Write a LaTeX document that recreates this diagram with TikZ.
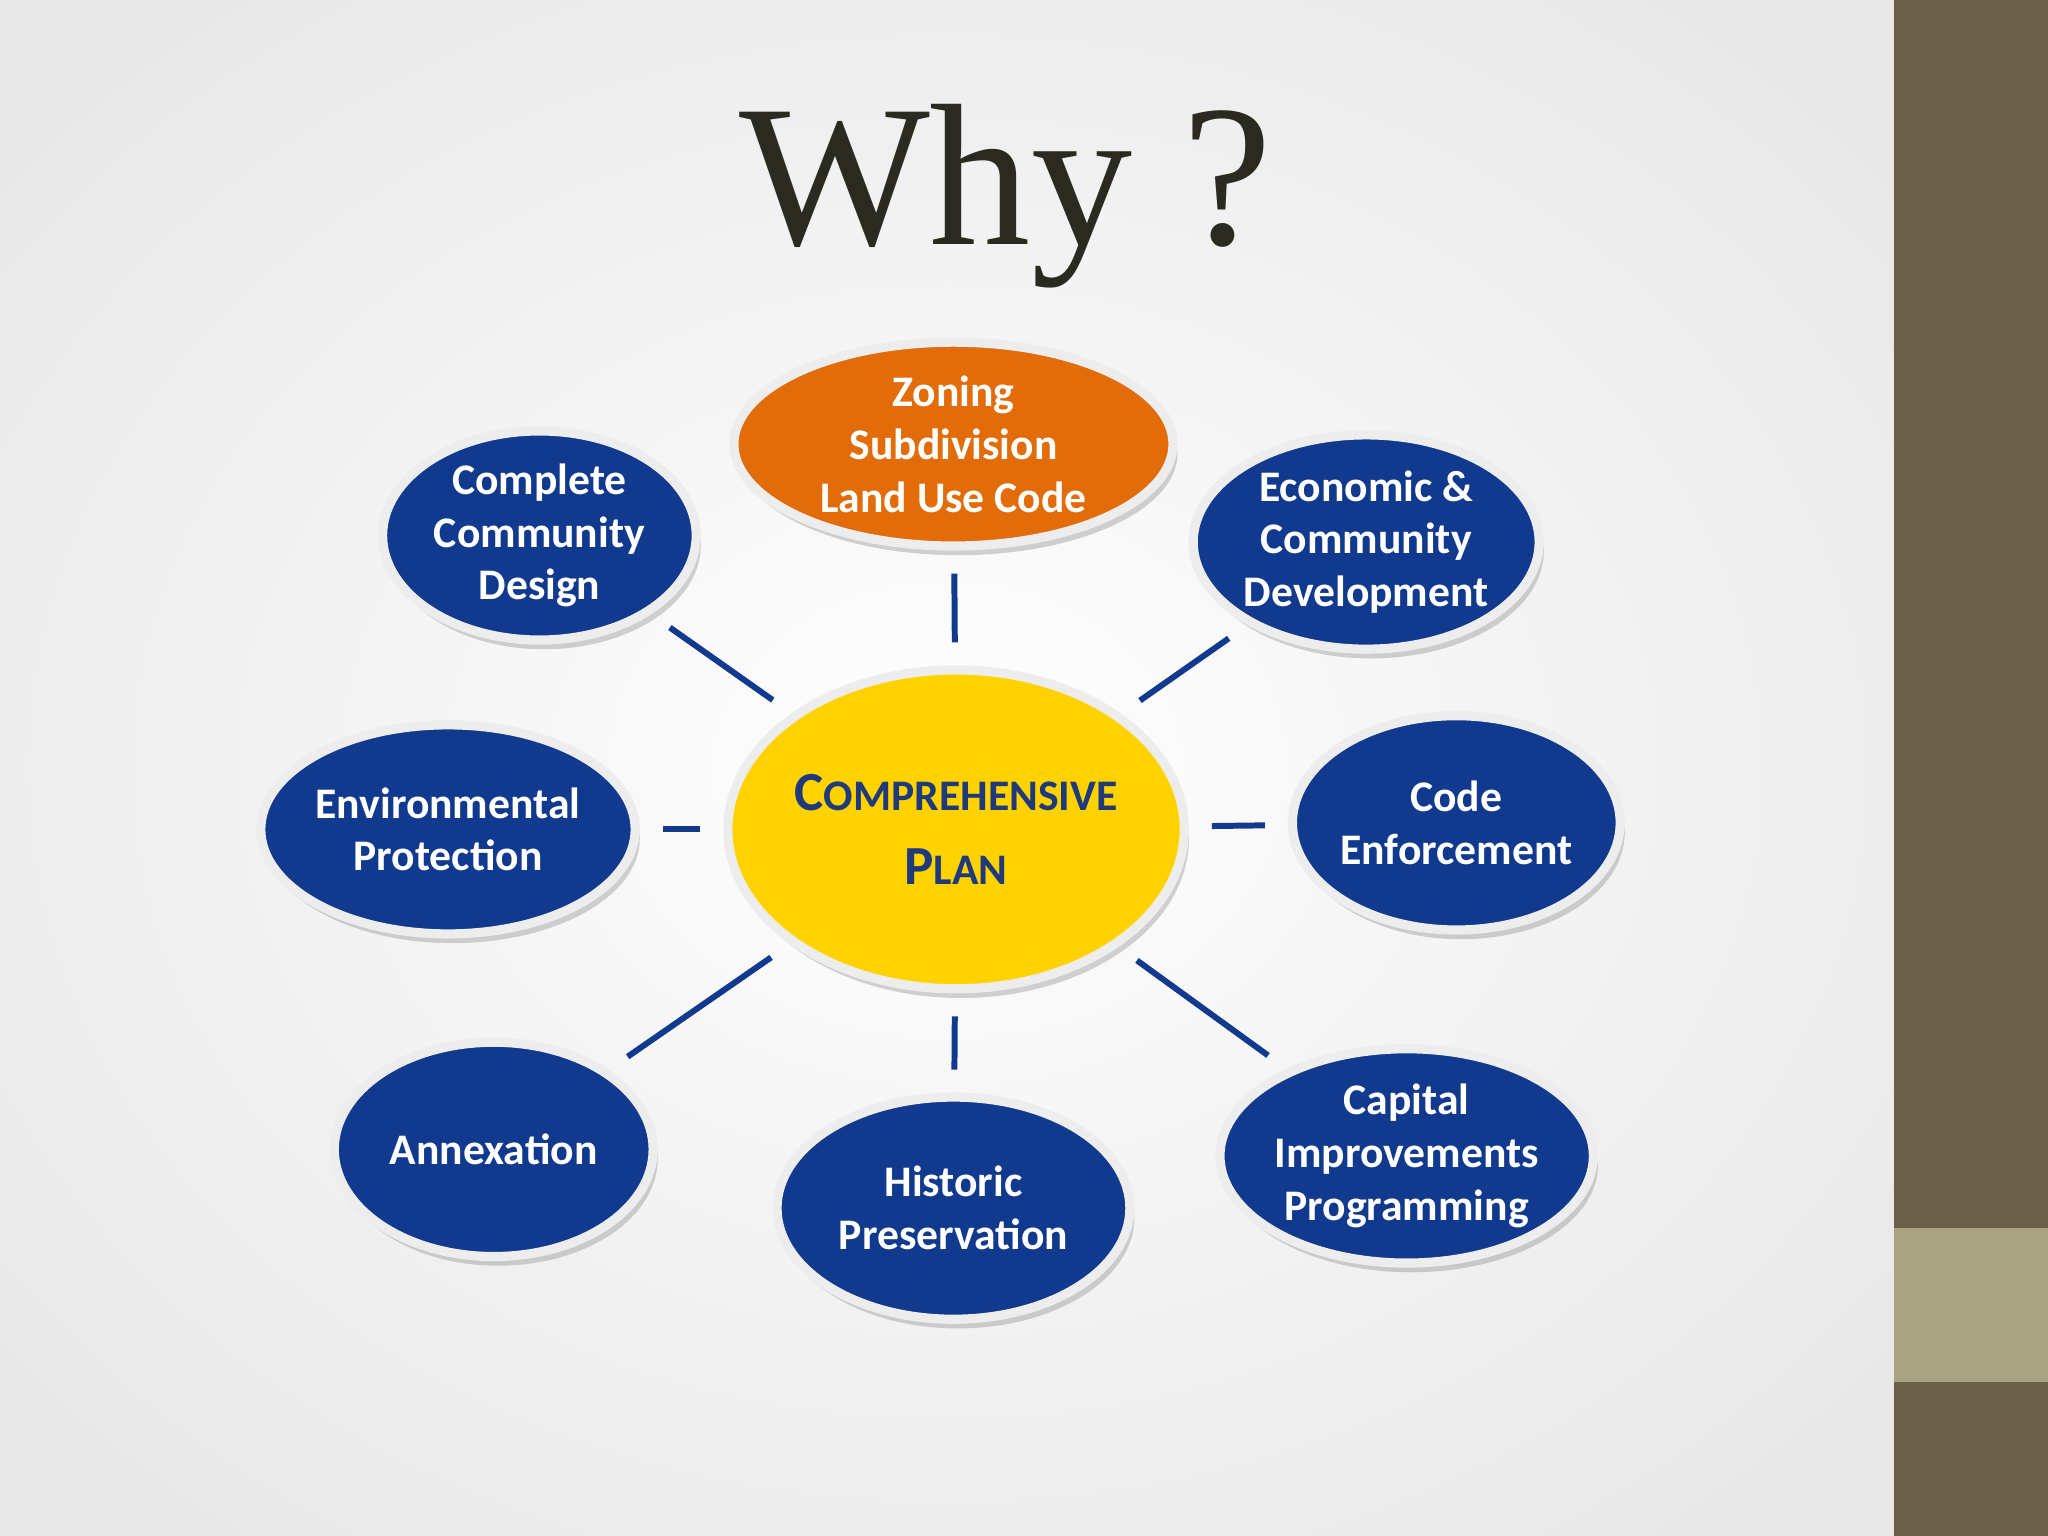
\documentclass[tikz,border=0pt]{standalone}
\usepackage{fontspec}
\setmainfont{Liberation Serif}
\newfontfamily\carfont{Carlito}
\usetikzlibrary{shapes.geometric,shadows}
\definecolor{oliveD}{HTML}{6B5F47}
\definecolor{oliveL}{HTML}{A9A283}
\definecolor{bub}{HTML}{113A8E}
\definecolor{org}{HTML}{E36C0A}
\definecolor{yel}{HTML}{FFD200}
\definecolor{ttl}{HTML}{2B2A20}
\definecolor{cpt}{HTML}{1F3A7A}
\tikzset{
 bubble/.style={ellipse, fill=bub, draw=white!93!black, line width=2pt,
   drop shadow={shadow xshift=1pt,shadow yshift=-2pt,opacity=0.35},
   text=white, font=\carfont\bfseries\fontsize{9.5}{11.5}\selectfont, align=center, inner sep=0pt},
 link/.style={draw=bub, line width=1.3pt, shorten <=5pt, shorten >=5pt}
}
\begin{document}
\begin{tikzpicture}[x=0.01cm,y=-0.01cm]
\useasboundingbox (0,0) rectangle (1568,1176);
\shade[inner color=white, outer color=black!9] (-200,-150) rectangle (1650,1326);
\fill[oliveD] (1450,0) rectangle (1568,1176);
\fill[oliveL] (1450,940) rectangle (1568,1058);
\node[text=ttl, font=\fontsize{44}{50}\selectfont] (title) at (770,150) {Why ?};
\node[bubble, fill=yel, minimum width=3.16cm, minimum height=2.44cm, text=cpt,
  font=\carfont\bfseries] (c) at (732,635)
  {{\fontsize{12}{14}\selectfont C}{\fontsize{9.5}{14}\selectfont OMPREHENSIVE}\\[4pt]{\fontsize{12}{14}\selectfont P}{\fontsize{9.5}{14}\selectfont LAN}};
\node[bubble, fill=org, minimum width=3.36cm, minimum height=1.56cm] (z) at (730,340) {Zoning\\Subdivision\\Land Use Code};
\node[bubble, minimum width=2.4cm, minimum height=1.6cm] (cd) at (413,410) {Complete\\Community\\Design};
\node[bubble, minimum width=2.44cm, minimum height=1.64cm] (ec) at (1046,415) {Economic \&\\Community\\Development};
\node[bubble, minimum width=2.44cm, minimum height=1.6cm] (en) at (343,635) {Environmental\\Protection};
\node[bubble, minimum width=2.44cm, minimum height=1.64cm] (co) at (1115,630) {Code\\Enforcement};
\node[bubble, minimum width=2.44cm, minimum height=1.64cm] (an) at (378,880) {Annexation};
\node[bubble, minimum width=2.7cm, minimum height=1.7cm] (hi) at (730,925) {Historic\\Preservation};
\node[bubble, minimum width=2.5cm, minimum height=1.64cm] (ca) at (1077,885) {Capital\\Improvements\\Programming};
\foreach \n in {z,cd,ec,en,co,an,hi,ca} \draw[link] (c) -- (\n);
\end{tikzpicture}
\end{document}
